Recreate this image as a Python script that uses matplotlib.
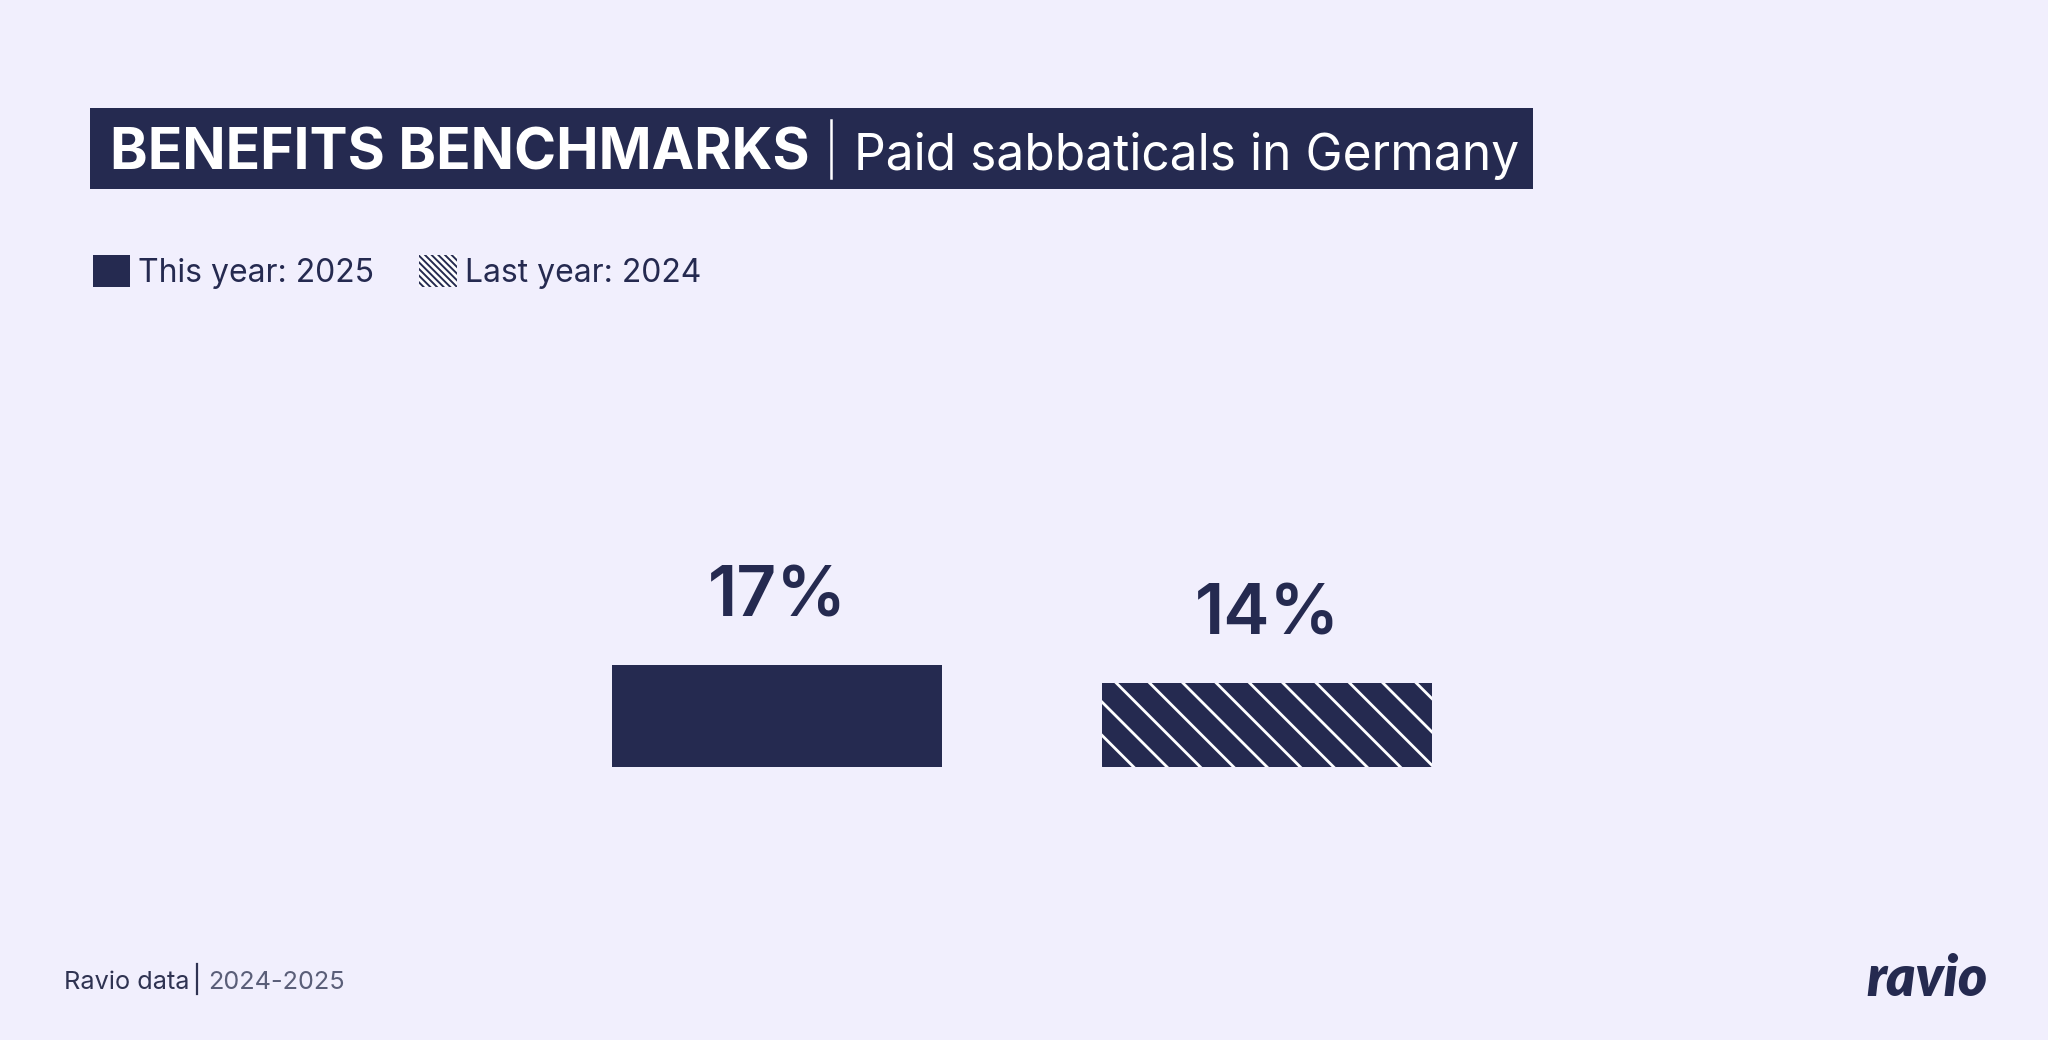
import matplotlib
matplotlib.use("Agg")
import matplotlib.pyplot as plt
from matplotlib.patches import Rectangle, Patch
from matplotlib.lines import Line2D

# ---- data ----
categories = ["This year: 2025", "Last year: 2024"]
values = [17, 14]
hatches = ["", "\\\\"]
title_bold = "BENEFITS BENCHMARKS"
title_rest = "Paid sabbaticals in Germany"
footer_left = "Ravio data"
footer_right = "2024-2025"
logo = "ravio"

BG = "#F1EFFD"
NAVY = "#252A50"
W, H = 2048, 1040
DPI = 200

plt.rcParams["font.family"] = ["Inter", "DejaVu Sans"]
plt.rcParams["hatch.linewidth"] = 1.0
plt.rcParams["hatch.color"] = "white"

fig = plt.figure(figsize=(W / DPI, H / DPI), dpi=DPI, facecolor=BG)

def fx(px):
    return px / W

def fy(py_from_top):
    return 1 - py_from_top / H

# ---- title box ----
fig.add_artist(Rectangle((fx(90), fy(189)), fx(1533 - 90), (189 - 108) / H,
                         transform=fig.transFigure, facecolor=NAVY, edgecolor="none"))
fig.text(fx(110), fy(170), title_bold, color="white", fontsize=20.5, fontweight="bold",
         va="baseline", ha="left")
fig.add_artist(Line2D([fx(831), fx(831)], [fy(120), fy(178)], transform=fig.transFigure,
                      color="white", lw=0.9))
fig.text(fx(854), fy(170), title_rest, color="white", fontsize=17.9, fontweight="normal",
         va="baseline", ha="left")

# ---- bars ----
ax = fig.add_axes([fx(532), 273 / H, 980 / W, 240 / H])
ax.set_facecolor("none")
xs = list(range(len(values)))
bars = ax.bar(xs, values, width=0.675, color=NAVY, edgecolor="white", linewidth=0)
for b, h in zip(bars, hatches):
    b.set_hatch(h)
ax.set_xlim(-0.5, 1.5)
ax.set_ylim(0, 40)
ax.axis("off")
for x, v in zip(xs, values):
    ax.annotate(f"{v}%", (x, v), xytext=(0, 17.6), textcoords="offset points",
                ha="center", va="baseline", fontsize=25, fontweight="semibold", color=NAVY)

# ---- legend ----
handles = [Patch(facecolor=NAVY, edgecolor="white", linewidth=0, hatch=h * 5 if h else "")
           for h in hatches]
leg = fig.legend(handles, categories, loc="upper left", bbox_to_anchor=(fx(80), fy(242)),
                 ncol=2, frameon=False, fontsize=11.5, handlelength=1.18, handleheight=1.18,
                 handletextpad=0.25, columnspacing=1.4, labelcolor=NAVY, borderaxespad=0)

# ---- footer ----
fig.text(fx(64), fy(989), footer_left, color="#2F3352", fontsize=9.1, va="baseline", ha="left")
fig.add_artist(Line2D([fx(197), fx(197)], [fy(964), fy(994)], transform=fig.transFigure,
                      color="#2F3352", lw=0.8))
fig.text(fx(208), fy(989), footer_right, color="#5A5E78", fontsize=9.1, va="baseline", ha="left")

fig.text(fx(1988), fy(996), logo, color=NAVY, fontsize=20, fontweight="heavy", fontstyle="italic",
         family=["Lato", "DejaVu Sans"], va="baseline", ha="right")

fig.savefig("out.png", dpi=DPI, facecolor=BG)
